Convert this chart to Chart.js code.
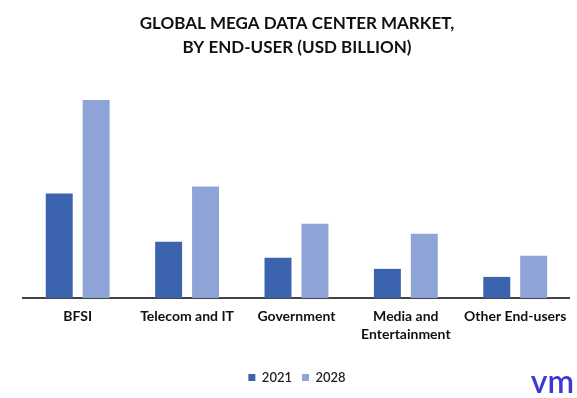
<!DOCTYPE html>
<html>
<head>
<meta charset="utf-8">
<script src="https://cdn.jsdelivr.net/npm/chart.js@4.4.1/dist/chart.umd.min.js"></script>
<style>
html,body{margin:0;padding:0;background:#fff;}
#c{display:block;}
</style>
</head>
<body>
<canvas id="c" width="577" height="398"></canvas>
<script>
const categories = ['BFSI', 'Telecom and IT', 'Government', ['Media and', 'Entertainment'], 'Other End-users'];
const seriesNames = ['2021', '2028'];
const values2021 = [10.4, 5.6, 4.0, 2.9, 2.1];
const values2028 = [19.7, 11.1, 7.4, 6.4, 4.2];
const titleLines = ['GLOBAL MEGA DATA CENTER MARKET,', 'BY END-USER (USD BILLION)'];

const logoPlugin = {
  id: 'logo',
  afterDraw(chart) {
    const ctx = chart.ctx;
    ctx.save();
    ctx.fillStyle = '#3b3bd4';
    ctx.font = '600 32px Lato';
    ctx.textAlign = 'right';
    ctx.textBaseline = 'alphabetic';
    ctx.fillText('vm', 574, 393);
    ctx.restore();
  }
};

new Chart(document.getElementById('c'), {
  type: 'bar',
  data: {
    labels: categories,
    datasets: [
      { label: seriesNames[0], data: values2021, backgroundColor: '#3c63ad' },
      { label: seriesNames[1], data: values2028, backgroundColor: '#8fa4d6' }
    ]
  },
  options: {
    responsive: false,
    animation: false,
    datasets: { bar: { categoryPercentage: 0.675, barPercentage: 0.73 } },
    layout: { padding: { left: 23, right: 6, top: 0, bottom: 4 } },
    plugins: {
      title: {
        display: true,
        text: titleLines,
        color: '#111',
        font: { family: 'Lato', weight: 'bold', size: 17, lineHeight: 1.4 },
        padding: { top: 12, bottom: 17.4 }
      },
      legend: {
        position: 'bottom',
        labels: { boxWidth: 7, boxHeight: 7, color: '#222', padding: 10, font: { family: 'Lato', size: 13, weight: '600' } }
      },
      tooltip: { enabled: false }
    },
    scales: {
      x: {
        grid: { display: false, drawTicks: false },
        border: { display: true, color: '#444', width: 2 },
        ticks: { color: '#111', padding: 10, maxRotation: 0, autoSkip: false, font: { family: 'Lato', weight: 'bold', size: 14, lineHeight: 1.25 } },
        afterFit(s) { s.height = 63; }
      },
      y: { display: false, min: 0, max: 22 }
    }
  },
  plugins: [logoPlugin]
});
</script>
</body>
</html>
